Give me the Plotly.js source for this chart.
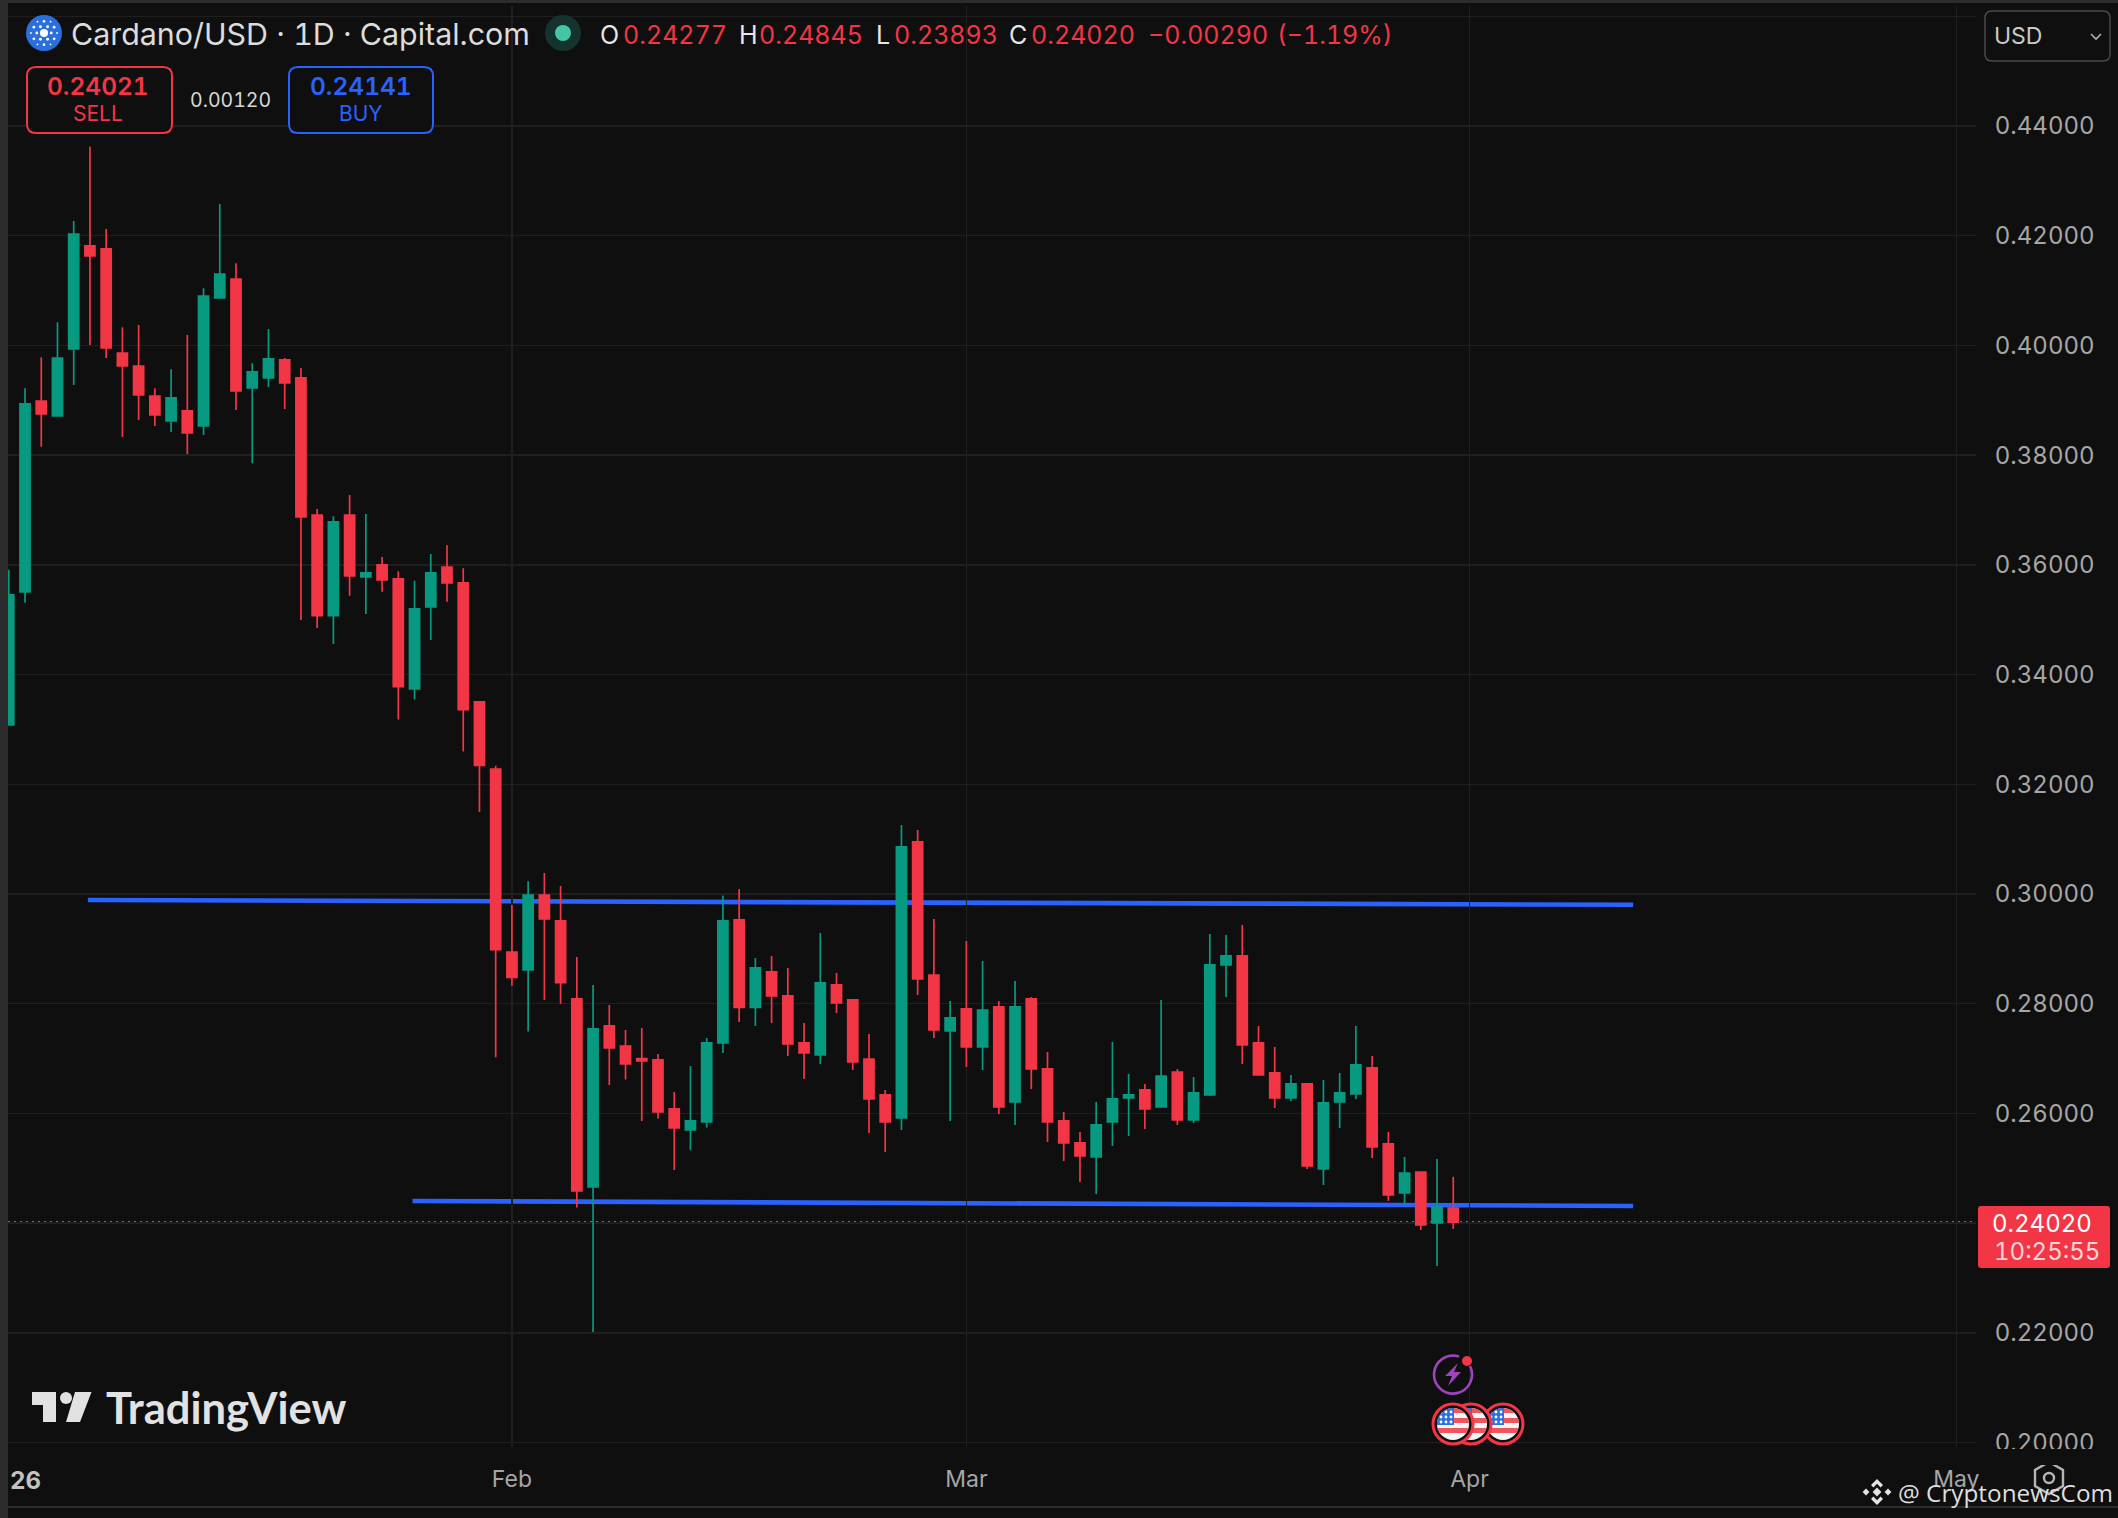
<!DOCTYPE html>
<html><head><meta charset="utf-8">
<script src="https://cdn.plot.ly/plotly-3.0.1.min.js"></script>
<style>html,body{margin:0;padding:0;background:#0f0f0f}#c{width:2118px;height:1518px}text{font-variant-numeric:tabular-nums;font-feature-settings:"tnum" 1}</style>
</head><body><div id="c"></div>
<script>
const dates=["2026-01-01","2026-01-02","2026-01-03","2026-01-04","2026-01-05","2026-01-06","2026-01-07","2026-01-08","2026-01-09","2026-01-10","2026-01-11","2026-01-12","2026-01-13","2026-01-14","2026-01-15","2026-01-16","2026-01-17","2026-01-18","2026-01-19","2026-01-20","2026-01-21","2026-01-22","2026-01-23","2026-01-24","2026-01-25","2026-01-26","2026-01-27","2026-01-28","2026-01-29","2026-01-30","2026-01-31",
"2026-02-01","2026-02-02","2026-02-03","2026-02-04","2026-02-05","2026-02-06","2026-02-07","2026-02-08","2026-02-09","2026-02-10","2026-02-11","2026-02-12","2026-02-13","2026-02-14","2026-02-15","2026-02-16","2026-02-17","2026-02-18","2026-02-19","2026-02-20","2026-02-21","2026-02-22","2026-02-23","2026-02-24","2026-02-25","2026-02-26","2026-02-27","2026-02-28",
"2026-03-01","2026-03-02","2026-03-03","2026-03-04","2026-03-05","2026-03-06","2026-03-07","2026-03-08","2026-03-09","2026-03-10","2026-03-11","2026-03-12","2026-03-13","2026-03-14","2026-03-15","2026-03-16","2026-03-17","2026-03-18","2026-03-19","2026-03-20","2026-03-21","2026-03-22","2026-03-23","2026-03-24","2026-03-25","2026-03-26","2026-03-27","2026-03-28","2026-03-29","2026-03-30","2026-03-31"];
const opens=[.33081,.35506,.38987,.38714,.39935,.41813,.41758,.39862,.39625,.39078,.38623,.38805,.38532,.40865,.41211,.39224,.39407,.39735,.39407,.36906,.35076,.36906,.35781,.35998,.35745,.33741,.35234,.35961,.35673,.33504,.32279,
.28942,.28617,.29979,.29511,.28087,.2466,.27595,.2723,.27,.26975,.26082,.25699,.25845,.27285,.29527,.27932,.28579,.28142,.27285,.27066,.28342,.28069,.26993,.26337,.25918,.30949,.28524,.27504,
.27905,.27212,.27941,.26209,.28087,.26811,.25863,.25462,.25207,.25845,.26282,.26428,.26118,.26756,.25881,.26337,.28707,.28871,.27285,.26738,.26282,.26538,.24988,.26209,.26355,.26829,.25444,.2455,.24933,.24004,.24277];
const highs=[.3591,.39219,.39784,.40422,.42268,.43623,.42123,.40331,.40373,.39219,.39565,.4019,.41042,.42578,.41497,.39674,.403,.39771,.39589,.3702,.36884,.37274,.36928,.36142,.35883,.3571,.362,.36359,.3594,.33504,.32336,
.29798,.30232,.30384,.30145,.28853,.28342,.27978,.27522,.27558,.27084,.26392,.26866,.27376,.29975,.30092,.28834,.28871,.28652,.2765,.2929,.28561,.28069,.27449,.26428,.31259,.31167,.29545,.2805,
.29144,.2878,.2805,.28415,.28123,.27121,.26027,.25663,.26209,.27303,.2672,.26538,.28069,.26811,.26665,.29272,.29254,.29436,.27595,.27212,.26702,.26556,.2661,.26738,.27595,.27048,.25663,.25207,.24933,.2517,.24845];
const lows=[.33081,.35311,.38154,.38714,.39279,.40008,.39771,.38331,.38641,.38532,.38422,.38021,.38368,.40865,.38823,.37852,.39242,.38841,.34995,.34851,.34556,.35435,.35105,.35508,.3318,.33546,.34629,.35327,.32596,.31494,.27024,
.28329,.27493,.28069,.27998,.24286,.22017,.26519,.26618,.25863,.25907,.2497,.25327,.25744,.27103,.27668,.27595,.2765,.27048,.26629,.26902,.27832,.26793,.25644,.25298,.25699,.2816,.27376,.25863,
.26847,.26793,.25991,.2579,.26446,.2548,.25134,.24751,.24532,.25407,.2559,.25717,.26118,.2579,.25827,.26319,.28123,.26902,.26702,.261,.26228,.24988,.24697,.25736,.26264,.25189,.24405,.24332,.23876,.2322,.23893];
const closes=[.35451,.38933,.3875,.39771,.42031,.4163,.39953,.39625,.39097,.38732,.39042,.38404,.40901,.41302,.3917,.39516,.39753,.39315,.36873,.35076,.36784,.35797,.35854,.35724,.33778,.35198,.35854,.35673,.3336,.32343,.28984,
.28481,.29979,.29547,.28386,.24587,.2754,.27194,.26902,.26957,.26027,.25736,.25863,.27285,.29509,.27932,.28652,.28142,.27267,.27103,.28379,.28014,.26939,.26264,.25845,.30858,.28452,.27522,.27741,
.27212,.27886,.26118,.27941,.26811,.25845,.25462,.25225,.2579,.26264,.26337,.26082,.26683,.25881,.26374,.28707,.28871,.27248,.26702,.26282,.26538,.25043,.26191,.26374,.26884,.25389,.24514,.24915,.23967,.24295,.2402];

const upperLineDates=["2026-01-05 21:00","2026-04-11 02:00"];
const upperLinePrices=[.29891,.29804];
const lowerLineDates=["2026-01-25 21:00","2026-04-11 02:00"];
const lowerLinePrices=[.24405,.24314];
const lastPrice=.2402;
const priceTicks=[.20,.22,.24,.26,.28,.30,.32,.34,.36,.38,.40,.42,.44,.46];
const priceTickLabels=["0.20000","0.22000","","0.26000","0.28000","0.30000","0.32000","0.34000","0.36000","0.38000","0.40000","0.42000","0.44000",""];
const dateTicks=["2026-02-01","2026-03-01","2026-04-01","2026-05-01"];
const dateTickLabels=["Feb","Mar","Apr","May"];
const ohlcLabels=[["O",599,"#e6e6e6"],["0.24277",622,"#f23645"],["H",738,"#e6e6e6"],["0.24845",758,"#f23645"],["L",875,"#e6e6e6"],["0.23893",893,"#f23645"],["C",1008,"#e6e6e6"],["0.24020",1030,"#f23645"],["−0.00290",1147,"#f23645"],["(−1.19%)",1276,"#f23645"]];

const W=2118,H=1518,ML=8,MR=142,MT=6,MB=71;
const PW=W-ML-MR,PH=H-MT-MB;
const fx=X=>(X-ML)/PW, fy=Y=>1-(Y-MT)/PH;
const RED="#f23645",GREEN="#089981",BLUE="#2962ff",BG="#0f0f0f",GRID="#1f1f1f",AXT="#a6a6a6";
const FONT="Inter, Roboto, sans-serif";

function ann(text,X,Y,size,color,anchor,opts){
  opts=opts||{};
  return {text:text,x:fx(X),y:fy(Y),xref:"paper",yref:"paper",showarrow:false,xanchor:anchor||"left",yanchor:"middle",borderpad:0,
    font:{family:opts.family||FONT,size:size,color:color,weight:opts.weight||400}};
}
function rect(x0,y0,x1,y1,fill){return {type:"rect",xref:"paper",yref:"paper",x0:fx(x0),x1:fx(x1),y0:fy(y0),y1:fy(y1),fillcolor:fill,line:{width:0},layer:"above"};}
function rrect(x0,y0,x1,y1,r,stroke,fill,lw){
  const p=(a,b)=>fx(a)+","+fy(b);
  const d="M"+p(x0+r,y0)+" L"+p(x1-r,y0)+" Q"+p(x1,y0)+" "+p(x1,y0+r)+" L"+p(x1,y1-r)+" Q"+p(x1,y1)+" "+p(x1-r,y1)+" L"+p(x0+r,y1)+" Q"+p(x0,y1)+" "+p(x0,y1-r)+" L"+p(x0,y0+r)+" Q"+p(x0,y0)+" "+p(x0+r,y0)+" Z";
  return {type:"path",xref:"paper",yref:"paper",path:d,fillcolor:fill||"rgba(0,0,0,0)",line:{color:stroke||"rgba(0,0,0,0)",width:lw||0},layer:"above"};
}
function poly(pts,fill){
  const d="M"+pts.map(q=>fx(q[0])+","+fy(q[1])).join(" L")+" Z";
  return {type:"path",xref:"paper",yref:"paper",path:d,fillcolor:fill,line:{width:0},layer:"above"};
}
function circle(cx,cy,r,fill,stroke,lw){
  return {type:"circle",xref:"paper",yref:"paper",x0:fx(cx-r),x1:fx(cx+r),y0:fy(cy+r),y1:fy(cy-r),fillcolor:fill||"rgba(0,0,0,0)",line:{color:stroke||"rgba(0,0,0,0)",width:lw||0},layer:"above"};
}
function svgImg(svg,cx,cy,w,h){
  return {source:"data:image/svg+xml;utf8,"+encodeURIComponent(svg),xref:"paper",yref:"paper",x:fx(cx-w/2),y:fy(cy-h/2),sizex:w/PW,sizey:h/PH,xanchor:"left",yanchor:"top",sizing:"stretch",layer:"above"};
}
const flagSvg='<svg xmlns="http://www.w3.org/2000/svg" viewBox="0 0 44 44"><defs><clipPath id="k"><circle cx="22" cy="22" r="16"/></clipPath></defs><circle cx="22" cy="22" r="20" fill="#0f0f0f" stroke="#f23645" stroke-width="3"/><g clip-path="url(#k)"><rect x="0" y="0" width="44" height="44" fill="#f5f5f5"/><rect x="0" y="6" width="44" height="5" fill="#f0555f"/><rect x="0" y="16" width="44" height="5" fill="#f0555f"/><rect x="0" y="26" width="44" height="5" fill="#f0555f"/><rect x="6" y="6" width="17" height="17" fill="#2f6fe0"/><g fill="#fff"><circle cx="10" cy="10" r="1.4"/><circle cx="15" cy="10" r="1.4"/><circle cx="20" cy="10" r="1.4"/><circle cx="10" cy="15" r="1.4"/><circle cx="15" cy="15" r="1.4"/><circle cx="20" cy="15" r="1.4"/><circle cx="10" cy="20" r="1.4"/><circle cx="15" cy="20" r="1.4"/><circle cx="20" cy="20" r="1.4"/></g></g></svg>';
const boltSvg='<svg xmlns="http://www.w3.org/2000/svg" viewBox="0 0 44 44"><path d="M28 4.5 A19 19 0 1 0 39 14" fill="none" stroke="#a043c0" stroke-width="2.6"/><path d="M27 11 L14 24 L21 24 L17 34 L30 20 L23 20 Z" fill="#a043c0"/></svg>';
const binanceSvg='<svg xmlns="http://www.w3.org/2000/svg" viewBox="0 0 32 32"><g fill="#e4e4e4"><path d="M16 3l6 6-2.4 2.4L16 7.8l-3.6 3.6L10 9z"/><path d="M16 29l6-6-2.4-2.4-3.6 3.6-3.6-3.6L10 23z"/><rect x="12.9" y="12.9" width="6.2" height="6.2" transform="rotate(45 16 16)"/><rect x="2.6" y="13.6" width="4.8" height="4.8" transform="rotate(45 5 16)"/><rect x="24.6" y="13.6" width="4.8" height="4.8" transform="rotate(45 27 16)"/></g></svg>';
const gearSvg='<svg xmlns="http://www.w3.org/2000/svg" viewBox="0 0 36 36"><path d="M18 2L32 10V26L18 34L4 26V10Z" fill="none" stroke="#b5b5b5" stroke-width="2.4"/><circle cx="18" cy="18" r="5" fill="none" stroke="#b5b5b5" stroke-width="2.4"/></svg>';
let logoDots='';
[[8,1.6,6,0],[13,1.5,6,30],[14.5,1,6,0]].forEach(function(s){
  for(let i=0;i<s[2];i++){const a=(i*60+s[3])*Math.PI/180;logoDots+='<circle cx="'+(20+s[0]*Math.cos(a)).toFixed(2)+'" cy="'+(20+s[0]*Math.sin(a)).toFixed(2)+'" r="'+s[1]+'"/>';}
});
const adaSvg='<svg xmlns="http://www.w3.org/2000/svg" viewBox="0 0 40 40"><circle cx="20" cy="20" r="20" fill="#2a6fdb"/><g fill="#fff">'+logoDots+'<circle cx="20" cy="20" r="4.5"/></g></svg>';

const shapes=[
  {type:"line",xref:"x",yref:"y",x0:upperLineDates[0],x1:upperLineDates[1],y0:upperLinePrices[0],y1:upperLinePrices[1],line:{color:BLUE,width:4.6},layer:"below"},
  {type:"line",xref:"x",yref:"y",x0:lowerLineDates[0],x1:lowerLineDates[1],y0:lowerLinePrices[0],y1:lowerLinePrices[1],line:{color:BLUE,width:4.6},layer:"below"},
  {type:"line",xref:"paper",yref:"y",x0:0,x1:1,y0:lastPrice,y1:lastPrice,line:{color:RED,width:2,dash:"2px 4px"},layer:"below"},
  // frame
  rect(0,0,8,H,"#2c2c2c"),
  rect(0,0,W,3,"#2c2c2c"),
  rect(8,1506,W,1508,"#2c2c2c"),
  // clip of the lowest price label
  rect(1980,1449,W,1465,BG),
  // last price tag
  rrect(1978,1206,2110,1268,3,null,RED),
  // buttons
  rrect(27,67,172,133,9,RED,BG,2),
  rrect(289,67,433,133,9,BLUE,BG,2),
  rrect(1985,11,2110,61,7,"#4a4a4a",BG,1.5),
  // status dot
  circle(563,33,18,"#15332e"),
  circle(563,33,8,"#45c4a6"),
  // TradingView mark
  poly([[32,1392],[56,1392],[56,1422],[43,1422],[43,1405],[32,1405]],"#e2e2e2"),
  circle(66,1398,6,"#e2e2e2"),
  poly([[75,1392],[91.5,1392],[80,1422],[66,1422]],"#e2e2e2"),
  // red dot of event icon
  circle(1467,1361,5,RED),
  // select chevron
  {type:"path",xref:"paper",yref:"paper",path:"M"+fx(2091)+","+fy(34)+" L"+fx(2096)+","+fy(39)+" L"+fx(2101)+","+fy(34),line:{color:"#b0b0b0",width:1.6},layer:"above"}
];

const annotations=[
  ann("Cardano/USD · 1D · Capital.com",70,34,30.4,"#dcdcdc","left"),
  ...ohlcLabels.map(o=>ann(o[0],o[1],35,25,o[2],"left")),
  ann("0.24021",98,86,24.5,RED,"center",{weight:600}),
  ann("SELL",98,114,21,RED,"center"),
  ann("0.00120",230,100,19.5,"#d8d8d8","center"),
  ann("0.24141",361,86,24.5,BLUE,"center",{weight:600}),
  ann("BUY",361,114,21,BLUE,"center"),
  ann("USD",1993,36,23,"#c8c8c8","left"),
  ann("0.24020",2042,1223,24,"#ffffff","center"),
  ann("10:25:55",2047,1251,24,"#f8d5d8","center"),
  ann("26",25,1480,24,"#c2c2c2","center",{weight:700}),
  ann("TradingView",105,1407,43.5,"#e2e2e2","left",{family:"Lato, sans-serif",weight:700}),
  ann("@ CryptonewsCom",1897,1492,24.3,"#dedede","left",{family:"'Open Sans', sans-serif"})
];

const images=[
  svgImg(adaSvg,44,33,36,36),
  svgImg(boltSvg,1453,1374,44,44),
  svgImg(flagSvg,1503,1424,44,44),
  svgImg(flagSvg,1471,1424,44,44),
  svgImg(flagSvg,1453,1424,44,44),
  svgImg(binanceSvg,1877,1492,32,32),
  svgImg(gearSvg,2049,1478,36,36)
];

const candle={type:"candlestick",x:dates,open:opens,high:highs,low:lows,close:closes,whiskerwidth:0,
  increasing:{line:{color:GREEN,width:1.7},fillcolor:GREEN},
  decreasing:{line:{color:RED,width:1.7},fillcolor:RED},
  hoverinfo:"skip",showlegend:false};

const layout={
  width:W,height:H,autosize:false,
  margin:{l:ML,r:MR,t:MT,b:MB,pad:0},
  paper_bgcolor:BG,plot_bgcolor:BG,showlegend:false,boxgap:0.38,boxgroupgap:0,
  font:{family:FONT,color:AXT,size:24},
  xaxis:{type:"date",range:["2025-12-31 22:50","2026-05-02 05:00"],rangeslider:{visible:false},
    tickmode:"array",tickvals:dateTicks,ticktext:dateTickLabels,showgrid:true,gridcolor:GRID,gridwidth:1.5,
    zeroline:false,showline:false,ticks:"outside",ticklen:11,tickcolor:"rgba(0,0,0,0)",tickangle:0,
    tickfont:{family:FONT,size:23,color:AXT}},
  yaxis:{side:"right",range:[.1992,.46187],tickmode:"array",tickvals:priceTicks,ticktext:priceTickLabels,
    showgrid:true,gridcolor:GRID,gridwidth:1.5,zeroline:false,showline:false,ticks:"outside",ticklen:13,tickcolor:"rgba(0,0,0,0)",
    tickfont:{family:FONT,size:24,color:AXT}},
  shapes:shapes,annotations:annotations,images:images
};
Plotly.newPlot("c",[candle],layout,{displayModeBar:false,staticPlot:true});
</script></body></html>
